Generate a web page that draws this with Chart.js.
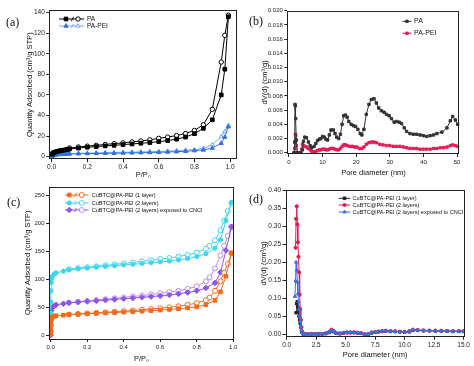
<!DOCTYPE html>
<html>
<head>
<meta charset="utf-8">
<script src="https://cdn.jsdelivr.net/npm/chart.js@4.4.1/dist/chart.umd.min.js"></script>
<style>
  body { margin: 0; background: #fff; }
  canvas { position: absolute; left: 0; top: 0; }
</style>
</head>
<body>
<canvas id="pa" width="474" height="366"></canvas>
<canvas id="pb" width="474" height="366"></canvas>
<canvas id="pc" width="474" height="366"></canvas>
<canvas id="pd" width="474" height="366"></canvas>
<script>
// (a) N2 isotherms of PA and PA-PEI
const aAdsP = [0.003, 0.006, 0.01, 0.015, 0.02, 0.03, 0.04, 0.05, 0.06, 0.07, 0.08, 0.09,
  0.1, 0.15, 0.2, 0.25, 0.3, 0.35, 0.4, 0.45, 0.5, 0.55, 0.6, 0.65, 0.7, 0.75, 0.8, 0.85, 0.9, 0.95, 0.97, 0.99]
const aPaAds = [2.2, 3.0, 3.6, 4.1, 4.5, 5.0, 5.4, 5.8, 6.1, 6.4, 6.7, 7.0,
  7.4, 8.3, 9.1, 9.8, 10.4, 11.0, 11.7, 12.3, 13.0, 13.7, 14.6, 15.6, 17.0, 19.0, 22.3, 27.5, 35.8, 60, 85, 136]
const aPeiAds = [0.5, 0.8, 1.1, 1.4, 1.6, 1.9, 2.1, 2.2, 2.3, 2.4, 2.5, 2.55,
  2.6, 2.8, 3.0, 3.1, 3.2, 3.35, 3.5, 3.65, 3.8, 4.0, 4.2, 4.5, 4.8, 5.2, 5.8, 6.5, 8.3, 13, 19, 29]
const aDesP = [0.99, 0.97, 0.95, 0.9, 0.85, 0.8, 0.75, 0.7, 0.65, 0.6, 0.55, 0.5, 0.45, 0.4, 0.35, 0.3, 0.25, 0.2, 0.15, 0.1]
const aPaDes = [137.5, 118, 92, 46, 31, 25.5, 22.5, 20.5, 19, 17.8, 16.3, 15.2, 14.3, 13.4, 12.6, 11.8, 11, 10.2, 9.4, 8.4]
const aPeiDes = [30.5, 24.5, 19.5, 11.5, 8, 6.8, 6.2, 5.7, 5.3, 5.0, 4.8, 4.6, 4.4, 4.2, 4.0, 3.8, 3.6, 3.4, 3.2, 3.0]

// (b) pore size distribution of PA and PA-PEI
const bPaX = [1.5, 1.7, 1.8, 1.9, 2.0, 2.2, 2.5, 3.0, 3.5, 4.0,
  4.3, 4.7, 5.2, 5.8, 6.3, 6.8, 7.5, 8.0, 8.5, 9.0,
  9.5, 10.0, 10.5, 11.0, 11.5, 12.0, 12.5, 13.2, 13.7, 14.2,
  14.8, 15.3, 15.8, 16.3, 16.8, 17.3, 17.8, 18.5, 19.2, 19.8,
  20.5, 21.2, 21.7, 22.3, 23.0, 23.8, 24.5, 25.3, 26.0, 26.7,
  27.5, 28.3, 29.0, 29.8, 30.5, 31.3, 32.0, 32.8, 33.5, 34.3,
  35.0, 36.0, 37.0, 38.0, 39.0, 40.0, 41.0, 42.0, 43.0, 44.0,
  45.5, 47.0, 48.0, 48.7, 49.5, 50.2]
const bPaY = [0, 0.0015, 0.0068, 0.0066, 0.0048, 0.0018, 0, 0, 0, 0.0004,
  0.0016, 0.0022, 0.0021, 0.0015, 0.0010, 0.0007, 0.0009, 0.0013, 0.0017, 0.0019,
  0.0020, 0.0023, 0.0022, 0.0019, 0.0018, 0.0025, 0.0032, 0.0032, 0.0027, 0.0022,
  0.0020, 0.0026, 0.0040, 0.0052, 0.0053, 0.0050, 0.0044, 0.0040, 0.0038, 0.0037,
  0.0033, 0.0027, 0.0025, 0.0033, 0.0054, 0.0068, 0.0075, 0.0076, 0.0070, 0.0063,
  0.0059, 0.0057, 0.0054, 0.0052, 0.0048, 0.0043, 0.0044, 0.0043, 0.0041, 0.0035,
  0.0030, 0.0027, 0.0026, 0.0026, 0.0025, 0.0024, 0.0023, 0.0024, 0.0025, 0.0027,
  0.0029, 0.0035, 0.0045, 0.0051, 0.0046, 0.0040]
const bPeiX = [1.5, 1.7, 1.8, 1.9, 2.0, 2.2, 2.5, 3.0, 3.5, 3.8,
  4.0, 4.3, 4.7, 5.2, 5.7, 6.3, 6.8, 7.5, 8.0, 8.5,
  9.0, 9.5, 10.0, 10.5, 11.0, 11.5, 12.0, 12.5, 13.2, 13.7,
  14.2, 14.8, 15.3, 15.8, 16.3, 16.8, 17.3, 18.0, 18.8, 19.5,
  20.2, 21.0, 21.7, 22.3, 23.0, 23.8, 24.5, 25.3, 26.0, 27.0,
  28.0, 29.0, 30.0, 31.0, 32.0, 33.0, 34.0, 35.0, 36.0, 37.0,
  38.0, 39.0, 40.0, 41.0, 42.0, 43.0, 44.0, 45.0, 46.0, 47.0,
  48.0, 48.7, 49.5, 50.2]
const bPeiY = [0, 0.0006, 0.0015, 0.0026, 0.0024, 0.0010, 0, 0, 0, 0.0005,
  0.0012, 0.0010, 0.0009, 0.0008, 0.0006, 0.0004, 0.0002, 0.0001, 0.0002, 0.0003,
  0.0004, 0.0004, 0.0005, 0.0005, 0.0004, 0.0004, 0.0005, 0.0006, 0.0006, 0.0005,
  0.0004, 0.0004, 0.0006, 0.0009, 0.0011, 0.0011, 0.0010, 0.0009, 0.0009, 0.0008,
  0.0008, 0.0006, 0.0006, 0.0008, 0.0012, 0.0014, 0.0015, 0.0015, 0.0014, 0.0012,
  0.0011, 0.0010, 0.0010, 0.0009, 0.0009, 0.0009, 0.0008, 0.0007, 0.0006, 0.0006,
  0.0006, 0.0005, 0.0005, 0.0005, 0.0005, 0.0006, 0.0006, 0.0007, 0.0007, 0.0008,
  0.0010, 0.0011, 0.0010, 0.0009]

// (c) N2 isotherms of the CuBTC coated fabrics
const cAdsP = [0.0001, 0.0003, 0.0006, 0.001, 0.002, 0.004, 0.007, 0.01, 0.02, 0.03,
  0.07, 0.1, 0.15, 0.2, 0.25, 0.3, 0.35, 0.4, 0.45, 0.5,
  0.55, 0.6, 0.65, 0.7, 0.75, 0.8, 0.85, 0.9, 0.93, 0.96, 0.99]
const c1Ads = [2, 8, 15, 22, 27, 30, 32, 33, 34.5, 35.5,
  36.5, 37.5, 38.3, 39, 39.8, 40.5, 41.2, 42, 42.8, 43.6,
  44.5, 45.5, 46.7, 48, 49.5, 51.5, 55, 63, 78, 106, 147]
const c2Ads = [5, 20, 40, 60, 80, 95, 102, 106, 110, 112,
  115, 117, 119, 120.5, 122, 123.3, 124.6, 126, 127.3, 128.6,
  130, 131.5, 133, 135, 137.5, 141, 146, 156, 171, 205, 237]
const c3Ads = [1, 8, 18, 28, 38, 45, 49, 51, 53, 55,
  57, 58.5, 59.7, 61, 62.2, 63.4, 64.6, 65.8, 67, 68.3,
  69.6, 71, 72.5, 74.5, 77, 80, 85, 94, 113, 152, 194]
const cDesP = [0.99, 0.97, 0.95, 0.93, 0.9, 0.87, 0.85, 0.8, 0.75, 0.7,
  0.65, 0.6, 0.55, 0.5, 0.45, 0.4, 0.35, 0.3, 0.25, 0.2, 0.15, 0.1]
const c1Des = [147, 128, 112, 97, 80, 68, 63, 58, 55, 52.5,
  50.5, 49, 47.5, 46.2, 45, 43.8, 42.7, 41.6, 40.6, 39.6, 38.6, 37.6]
const c2Des = [237, 222, 205, 188, 170, 160, 155, 148, 144, 141,
  138.5, 136.5, 134.5, 132.5, 130.5, 128.7, 127, 125.3, 123.6, 122, 120.3, 118.5]
const c3Des = [194, 178, 160, 143, 120, 104, 97, 88, 83.5, 80,
  77.5, 75.5, 73.5, 71.5, 69.8, 68.2, 66.6, 65, 63.5, 62, 60.5, 59]

// (d) pore size distribution of the CuBTC coated fabrics
const dBlackHeadX = [0.8, 0.85, 0.9, 0.95, 1.0, 1.05, 1.1, 1.15, 1.2, 1.3, 1.4]
const dBlackHeadY = [0.06, 0.085, 0.09, 0.075, 0.062, 0.05, 0.04, 0.03, 0.02, 0.006, 0.001]
const dRedHeadX = [0.75, 0.8, 0.85, 0.9, 0.95, 1.0, 1.05, 1.1, 1.15, 1.2, 1.25, 1.3, 1.4]
const dRedHeadY = [0.24, 0.32, 0.355, 0.305, 0.255, 0.215, 0.172, 0.11, 0.07, 0.04, 0.02, 0.008, 0.002]
const dBlueHeadX = [0.7, 0.75, 0.8, 0.85, 0.9, 0.95, 1.0, 1.05, 1.1, 1.15, 1.2, 1.25, 1.3, 1.4]
const dBlueHeadY = [0.105, 0.148, 0.2, 0.178, 0.145, 0.112, 0.09, 0.07, 0.05, 0.035, 0.022, 0.012, 0.005, 0.001]
const dTailX = [1.5, 1.8, 2.1, 2.4, 2.7, 3.0, 3.3, 3.6, 3.8, 4.0,
  4.2, 4.5, 4.8, 5.1, 5.4, 5.7, 6.0, 6.3, 6.6, 6.9,
  7.2, 7.5, 7.8, 8.1, 8.4, 8.8, 9.2, 9.6, 10.0, 10.4,
  10.7, 11.1, 11.6, 12.1, 12.6, 13.1, 13.6, 14.1, 14.6, 15.0]
const dBlackTail = [0.001, 0.001, 0.001, 0.001, 0.001, 0.001, 0.002, 0.005, 0.009, 0.007,
  0.003, 0.002, 0.004, 0.005, 0.005, 0.005, 0.004, 0.003, 0.000, 0.000,
  0.004, 0.006, 0.007, 0.008, 0.009, 0.008, 0.008, 0.007, 0.006, 0.007,
  0.011, 0.011, 0.010, 0.010, 0.009, 0.009, 0.009, 0.008, 0.008, 0.008]
const dRedTail = [0.001, 0.001, 0.001, 0.001, 0.001, 0.001, 0.003, 0.007, 0.013, 0.009,
  0.003, 0.002, 0.004, 0.005, 0.005, 0.005, 0.004, 0.003, 0.000, 0.001,
  0.005, 0.006, 0.008, 0.009, 0.010, 0.009, 0.008, 0.007, 0.007, 0.009,
  0.013, 0.012, 0.011, 0.010, 0.010, 0.010, 0.009, 0.009, 0.009, 0.009]
const dBlueTail = [0.001, 0.001, 0.001, 0.001, 0.001, 0.001, 0.002, 0.006, 0.011, 0.008,
  0.003, 0.002, 0.004, 0.005, 0.005, 0.005, 0.004, 0.003, 0.000, 0.000,
  0.005, 0.006, 0.007, 0.009, 0.009, 0.008, 0.008, 0.007, 0.006, 0.008,
  0.012, 0.012, 0.010, 0.010, 0.010, 0.009, 0.009, 0.009, 0.008, 0.008]

// tick values
const isoPTicks = [0, 0.2, 0.4, 0.6, 0.8, 1.0]
const aYTicks = [0, 20, 40, 60, 80, 100, 120, 140]
const bXTicks = [0, 10, 20, 30, 40, 50]
const bYTicks = [0, 0.002, 0.004, 0.006, 0.008, 0.010, 0.012, 0.014, 0.016, 0.018, 0.020]
const cYTicks = [0, 50, 100, 150, 200, 250]
const dXTicks = [0, 2.5, 5, 7.5, 10, 12.5, 15]
const dYTicks = [0, 0.05, 0.1, 0.15, 0.2, 0.25, 0.3, 0.35, 0.4]

const W = 474
const H = 366
const SANS = '"Liberation Sans", Arial, sans-serif'
const INK = '#222'

function pts (xs, ys) {
  return xs.map((x, i) => ({ x, y: ys[i] }))
}

function series (data, color, style, r, open, extra) {
  return Object.assign({
    data,
    showLine: true,
    borderColor: color,
    borderWidth: 1,
    pointStyle: style,
    pointRadius: r,
    pointBorderWidth: 1,
    pointBorderColor: color,
    pointBackgroundColor: open ? '#fff' : color
  }, extra || {})
}

// frame, panel letter and hand-drawn legend
const decor = {
  id: 'decor',
  afterDatasetsDraw (chart, args, o) {
    const { ctx, chartArea: a } = chart
    ctx.save()
    ctx.strokeStyle = INK
    ctx.lineWidth = 1
    ctx.strokeRect(Math.round(a.left) + 0.5, Math.round(a.top) + 0.5,
      Math.round(a.right - a.left) - 1, Math.round(a.bottom - a.top) - 1)

    ctx.fillStyle = '#111'
    ctx.font = '12px "Liberation Serif", "DejaVu Serif", serif'
    ctx.textBaseline = 'middle'
    ctx.textAlign = 'left'
    ctx.fillText(o.label.text, o.label.x, o.label.y)

    ctx.font = o.legendSize + 'px ' + SANS
    o.legend.forEach(e => {
      ctx.strokeStyle = e.line
      ctx.lineWidth = 1
      ctx.beginPath()
      ctx.moveTo(o.lx1, e.y)
      ctx.lineTo(o.lx2, e.y)
      ctx.stroke()
      if (e.slash) {
        ctx.beginPath()
        ctx.moveTo(e.slash - 1.2, e.y + 2.2)
        ctx.lineTo(e.slash + 1.2, e.y - 2.2)
        ctx.stroke()
      }
      e.marks.forEach(m => {
        ctx.fillStyle = m.open ? '#fff' : m.color
        ctx.strokeStyle = m.color
        Chart.helpers.drawPoint(ctx, { pointStyle: m.style, radius: m.r, borderWidth: 1, rotation: 0 }, m.x, e.y)
      })
      ctx.fillStyle = '#111'
      ctx.fillText(e.text, o.tx, e.y)
    })
    ctx.restore()
  }
}

function makeChart (id, p) {
  const [L, T, R, B] = p.area
  const lh = p.titleSize * 1.2
  const yLeft = p.yTitleX - lh / 2
  const yW = L - yLeft
  const xH = p.xTitleY + lh / 2 - B
  const tickFont = { family: SANS, size: p.tickSize }
  const titleFont = { family: SANS, size: p.titleSize }
  const axis = (s, horiz) => ({
    type: 'linear',
    min: s.min,
    max: s.max,
    afterBuildTicks: sc => { sc.ticks = s.ticks.map(v => ({ value: v })) },
    afterFit: sc => {
      if (horiz) {
        sc.height = xH
        sc.paddingLeft = 0
        sc.paddingRight = 0
      } else {
        sc.width = yW
        sc.paddingTop = 0
        sc.paddingBottom = 0
      }
    },
    ticks: { font: tickFont, color: INK, padding: 1.5, autoSkip: false, maxRotation: 0, callback: s.fmt },
    grid: { drawOnChartArea: false, drawTicks: true, tickLength: 3, color: INK },
    border: { display: false },
    title: { display: true, text: s.title, font: titleFont, color: '#111', padding: 0 }
  })
  return new Chart(document.getElementById(id), {
    type: 'scatter',
    data: { datasets: p.datasets },
    options: {
      responsive: false,
      animation: false,
      devicePixelRatio: 1,
      layout: { padding: { left: yLeft, top: T, right: W - R, bottom: H - B - xH } },
      plugins: {
        legend: { display: false },
        tooltip: { enabled: false },
        decor: p.decor
      },
      scales: { x: axis(p.x, true), y: axis(p.y, false) }
    },
    plugins: [decor]
  })
}

const f1 = v => v.toFixed(1)
const f0 = v => String(v)

// (a)
const paBlue = '#3270e6'
const paBlueLight = '#78a9f2'
makeChart('pa', {
  area: [49.3, 10, 237.3, 159.3],
  yTitleX: 30, xTitleY: 175, tickSize: 6.5, titleSize: 7.5,
  x: { min: -0.013, max: 1.04, ticks: isoPTicks, fmt: f1, title: 'P/P\u2080' },
  y: { min: -2.6, max: 142.6, ticks: aYTicks, fmt: f0, title: 'Quantity Adsorbed (cm\u00b3/g STP)' },
  datasets: [
    series(pts(aAdsP, aPaAds), '#000', 'rect', 2.6, false, { order: 1 }),
    series(pts(aDesP, aPaDes), '#000', 'circle', 2.2, true, { order: 2 }),
    series(pts(aAdsP, aPeiAds), paBlue, 'triangle', 2.4, false, { order: 3 }),
    series(pts(aDesP, aPeiDes), paBlueLight, 'triangle', 2.4, true, { order: 4 })
  ],
  decor: {
    label: { text: '(a)', x: 6, y: 23 },
    legendSize: 6.5, lx1: 59, lx2: 84, tx: 87,
    legend: [
      { y: 19, line: '#000', text: 'PA', slash: 72.5,
        marks: [{ x: 66, style: 'rect', r: 2.6, color: '#000' }, { x: 78, style: 'circle', r: 2.2, color: '#000', open: true }] },
      { y: 26, line: paBlueLight, text: 'PA-PEI', slash: 72.5,
        marks: [{ x: 66, style: 'triangle', r: 2.4, color: paBlue }, { x: 78, style: 'triangle', r: 2.4, color: paBlueLight, open: true }] }
    ]
  }
})

// (b)
const bRed = '#ea1a55'
makeChart('pb', {
  area: [287.3, 10.7, 459.7, 154],
  yTitleX: 264.5, xTitleY: 173.3, tickSize: 6, titleSize: 7.5,
  x: { min: -0.5, max: 50.8, ticks: bXTicks, fmt: f0, title: 'Pore diameter (nm)' },
  y: { min: -0.00018, max: 0.020, ticks: bYTicks, fmt: v => v.toFixed(3), title: 'dV(d) (cm\u00b3/g)' },
  datasets: [
    series(pts(bPaX, bPaY), '#333', 'rect', 1.7, false, { order: 1 }),
    series(pts(bPeiX, bPeiY), bRed, 'rect', 1.7, false, { order: 2 })
  ],
  decor: {
    label: { text: '(b)', x: 249, y: 22 },
    legendSize: 7, lx1: 402.5, lx2: 411.5, tx: 414,
    legend: [
      { y: 21.3, line: '#333', text: 'PA', marks: [{ x: 407, style: 'rect', r: 1.7, color: '#333' }] },
      { y: 33.3, line: bRed, text: 'PA-PEI', marks: [{ x: 407, style: 'rect', r: 1.7, color: bRed }] }
    ]
  }
})

// (c)
const cOrange = '#f26b1d'
const cCyan = '#3fd6ef'
const cPurple = '#8e55ea'
const cPurpleLight = '#b88cf4'
makeChart('pc', {
  area: [49, 186.5, 234, 339],
  yTitleX: 28.3, xTitleY: 359, tickSize: 6, titleSize: 7.5,
  x: { min: -0.009, max: 1.004, ticks: isoPTicks, fmt: f1, title: 'P/P\u2080' },
  y: { min: -6, max: 266, ticks: cYTicks, fmt: f0, title: 'Quantity Adsorbed (cm\u00b3/g STP)' },
  datasets: [
    series(pts(cAdsP, c1Ads), cOrange, 'rect', 2.6, false),
    series(pts(cDesP, c1Des), cOrange, 'circle', 2.5, true),
    series(pts(cAdsP, c2Ads), cCyan, 'circle', 2.1, false),
    series(pts(cDesP, c2Des), cCyan, 'circle', 2.5, true),
    series(pts(cAdsP, c3Ads), cPurple, 'rectRot', 2.8, false),
    series(pts(cDesP, c3Des), cPurpleLight, 'circle', 2.5, true)
  ],
  decor: {
    label: { text: '(c)', x: 7, y: 203.3 },
    legendSize: 5.6, lx1: 65, lx2: 88.3, tx: 91.7,
    legend: [
      { y: 195, line: cOrange, text: 'CuBTC@PA-PEI (1 layer)', slash: 75.5,
        marks: [{ x: 69.3, style: 'rect', r: 2.6, color: cOrange }, { x: 81.7, style: 'circle', r: 2.5, color: cOrange, open: true }] },
      { y: 203, line: cCyan, text: 'CuBTC@PA-PEI (2 layers)', slash: 75.5,
        marks: [{ x: 69.3, style: 'circle', r: 2.1, color: cCyan }, { x: 81.7, style: 'circle', r: 2.5, color: cCyan, open: true }] },
      { y: 210, line: cPurple, text: 'CuBTC@PA-PEI (2 layers) exposed to CNCl', slash: 75.5,
        marks: [{ x: 69.3, style: 'rectRot', r: 2.8, color: cPurple }, { x: 81.7, style: 'circle', r: 2.5, color: cPurpleLight, open: true }] }
    ]
  }
})

// (d)
const dRed = '#e8194f'
const dBlue = '#3a6ee2'
makeChart('pd', {
  area: [285.5, 190, 464.7, 336.7],
  yTitleX: 263.5, xTitleY: 355, tickSize: 6.5, titleSize: 7.5,
  x: { min: -0.1, max: 15.09, ticks: dXTicks, fmt: f1, title: 'Pore diameter (nm)' },
  y: { min: -0.0066, max: 0.4, ticks: dYTicks, fmt: v => v.toFixed(2), title: 'dV(d) (cm\u00b3/g)' },
  datasets: [
    series(pts(dBlackHeadX.concat(dTailX), dBlackHeadY.concat(dBlackTail)), '#222', 'rect', 1.8, false, { order: 3 }),
    series(pts(dRedHeadX.concat(dTailX), dRedHeadY.concat(dRedTail)), dRed, 'circle', 1.6, false, { order: 2 }),
    series(pts(dBlueHeadX.concat(dTailX), dBlueHeadY.concat(dBlueTail)), dBlue, 'triangle', 1.9, false, { order: 1 })
  ],
  decor: {
    label: { text: '(d)', x: 249, y: 200 },
    legendSize: 5.6, lx1: 338.7, lx2: 350.3, tx: 352.5,
    legend: [
      { y: 198.3, line: '#222', text: 'CuBTC@PA-PEI (1 layer)', marks: [{ x: 344.5, style: 'rect', r: 1.8, color: '#222' }] },
      { y: 205, line: dRed, text: 'CuBTC@PA-PEI (2 layers)', marks: [{ x: 344.5, style: 'circle', r: 1.6, color: dRed }] },
      { y: 212, line: dBlue, text: 'CuBTC@PA-PEI (2 layers) exposed to CNCl', marks: [{ x: 344.5, style: 'triangle', r: 1.9, color: dBlue }] }
    ]
  }
})
</script>
</body>
</html>
